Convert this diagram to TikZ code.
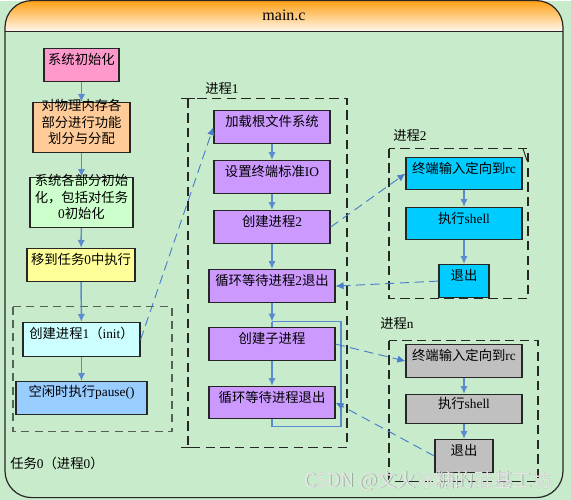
\documentclass[tikz,border=0pt]{standalone}
\usepackage{fontspec}
\setmainfont{Liberation Serif}
\newfontfamily\cjkfont{Noto Sans CJK SC}
\newcommand{\cj}[1]{{\cjkfont #1}}
\usetikzlibrary{arrows.meta,fit}
\definecolor{bg}{HTML}{C8ECCB}
\definecolor{hdtop}{HTML}{FFA015}
\definecolor{hdbot}{HTML}{FFF8EE}
\definecolor{arrc}{HTML}{5B8BD0}
\definecolor{linkc}{HTML}{4A7CC9}
\definecolor{grpgray}{HTML}{56615A}
\definecolor{cpink}{HTML}{FF99CC}
\definecolor{corange}{HTML}{FFCC99}
\definecolor{cgreen}{HTML}{CCFFCC}
\definecolor{cyellow}{HTML}{FFFF99}
\definecolor{clcyan}{HTML}{CCFFFF}
\definecolor{cblue}{HTML}{99CCFF}
\definecolor{cpurple}{HTML}{CC99FF}
\definecolor{ccyan}{HTML}{00CCFF}
\definecolor{cgray}{HTML}{C0C0C0}
\definecolor{wmark}{HTML}{E6E6E6}
\definecolor{wmshadow}{HTML}{8C948E}
\begin{document}
\begin{tikzpicture}[x=0.75pt,y=-0.75pt,
  font=\fontsize{10}{12.5}\selectfont,
  box/.style={draw=black!85, line width=0.9pt, inner sep=0pt, align=center},
  flow/.style={draw=arrc, line width=1.1pt, -{Latex[length=6pt,width=5.5pt]}},
  flowline/.style={draw=arrc, line width=1.1pt},
  link/.style={draw=linkc, line width=0.7pt, dash pattern=on 7pt off 4pt, -{Latex[length=6pt,width=5.5pt]}},
  grp/.style={draw=black!85, line width=0.8pt, dash pattern=on 7pt off 4pt},
  grpzero/.style={draw=grpgray, line width=1.3pt, dash pattern=on 6pt off 4pt},
  lbl/.style={anchor=west, inner sep=0pt},
  wm/.style={inner sep=0pt, anchor=west, font=\cjkfont\fontsize{14.5}{16}\selectfont}]
% background and outer frame
\fill[bg] (0,0) rectangle (571,499);
\begin{scope}
  \clip[rounded corners=20pt] (5,0) rectangle (563,497);
  \shade[top color=hdtop, bottom color=hdbot] (5,0) rectangle (563,31);
\end{scope}
\draw[black!85, line width=0.9pt, rounded corners=20pt] (5,0) rectangle (563,497);
\draw[black!85, line width=0.9pt] (5,31) -- (563,31);
\node[inner sep=0pt, font=\fontsize{12}{14}\selectfont] (title) at (284,15) {main.c};

% groups
\draw[grpzero] (13,306) rectangle (172,431);
\node[lbl] (lab0) at (10,463) {\cj{任务}0\cj{（进程}0\cj{）}};
\draw[grp] (188,98) rectangle (347,447);
\draw[black!85, line width=0.8pt] (181,98) -- (195,98) (181,447) -- (195,447);
\node[lbl] (lab1) at (205,88) {\cj{进程}1};
\draw[grp] (389,148) rectangle (528,298);
\draw[black!85, line width=0.7pt] (523,148) -- (527,160);
\node[lbl] (lab2) at (393,135) {\cj{进程}2};
\draw[grp] (389,340) rectangle (538,481);
\node[lbl] (labn) at (380,323) {\cj{进程}n};

% task 0 column
\node[box, fill=cpink, fit={(44,48) (119,81)}] (n1) {\cj{系统初始化}};
\node[box, fill=corange, fit={(33,102) (130,152)}] (n2) {\cj{对物理内存各}\\\cj{部分进行功能}\\\cj{划分与分配}};
\node[box, fill=cgreen, fit={(30,177) (133,227)}] (n3) {\cj{系统各部分初始}\\\cj{化，包括对任务}\\0\cj{初始化}};
\node[box, fill=cyellow, fit={(27,248) (135,281)}] (n4) {\cj{移到任务}0\cj{中执行}};
\node[box, fill=clcyan, fit={(23,322) (140,356)}] (n5) {\cj{创建进程}1\cj{（}init\cj{）}};
\node[box, fill=cblue, fit={(16,381) (147,414)}] (n6) {\cj{空闲时执行}pause()};

% process 1
\node[box, fill=cpurple, fit={(214,110) (330,143)}] (p1a) {\cj{加载根文件系统}};
\node[box, fill=cpurple, fit={(214,160) (330,193)}] (p1b) {\cj{设置终端标准}IO};
\node[box, fill=cpurple, fit={(214,210) (330,243)}] (p1c) {\cj{创建进程}2};
\node[box, fill=cpurple, fit={(209,269) (335,302)}] (p1d) {\cj{循环等待进程}2\cj{退出}};
\node[box, fill=cpurple, fit={(209,327) (335,360)}] (p1e) {\cj{创建子进程}};
\node[box, fill=cpurple, fit={(209,386) (335,418)}] (p1f) {\cj{循环等待进程退出}};

% process 2
\node[box, fill=ccyan, fit={(406,157) (522,189)}] (p2a) {\cj{终端输入定向到}rc};
\node[box, fill=ccyan, fit={(406,207) (522,239)}] (p2b) {\cj{执行}shell};
\node[box, fill=ccyan, fit={(439,264) (489,297)}] (p2c) {\cj{退出}};

% process n
\node[box, fill=cgray, fit={(406,344) (522,377)}] (pna) {\cj{终端输入定向到}rc};
\node[box, fill=cgray, fit={(406,394) (522,423)}] (pnb) {\cj{执行}shell};
\node[box, fill=cgray, fit={(435,439) (493,472)}] (pnc) {\cj{退出}};

% solid flow arrows
\draw[flow] (n1) -- (n2);
\draw[flow] (n2) -- (n3);
\draw[flow] (n3) -- (n4);
\draw[flow] (n4) -- (n5);
\draw[flow] (n5.south -| n6.north) -- (n6.north);
\draw[flow] (p1a) -- (p1b);
\draw[flow] (p1b) -- (p1c);
\draw[flow] (p1c.south) -- (p1d.north -| p1c.south);
\coordinate (J) at (272,321);
\draw[flow] (p1d.south -| J) -- (J);
\draw[flowline] (J) -- (p1e.north -| J);
\draw[flowline] (p1f.south -| J) -- (272,426) -- (341,426) -- (341,321) -- (J);
\draw[flow] (p1e.south -| J) -- (p1f.north -| J);
\draw[flow] (p2a.south -| p2c.north) -- (p2b.north -| p2c.north);
\draw[flow] (p2b.south -| p2c.north) -- (p2c.north);
\draw[flow] (pna.south -| pnc.north) -- (pnb.north -| pnc.north);
\draw[flow] (pnb.south -| pnc.north) -- (pnc.north);

% dashed links between processes
\draw[link] (n5.east) -- (p1a.west);
\draw[link] (p1c.east) -- (p2a.west);
\draw[link] (p2c.west) -- (p1d.east);
\draw[link] (p1e.east) -- (pna.west);
\draw[link] (pnc.west) -- (p1f.east);

% watermark
\node[wm, text=wmshadow, opacity=0.7] (wmshade) at (304.8,480.8) {CSDN @文火冰糖的硅基工坊};
\node[wm, text=wmark] (wmtext) at (304,480) {CSDN @文火冰糖的硅基工坊};
\end{tikzpicture}
\end{document}
